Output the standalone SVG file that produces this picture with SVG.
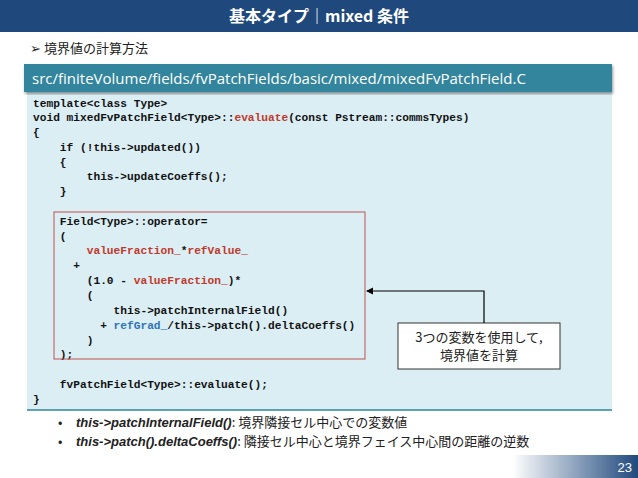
<svg xmlns="http://www.w3.org/2000/svg" width="638" height="478" viewBox="0 0 638 478">
<defs>
<linearGradient id="pg" x1="0" x2="1"><stop offset="0" stop-color="#ffffff"/><stop offset="1" stop-color="#1f497d"/></linearGradient>
<marker id="ah" markerWidth="6" markerHeight="6" refX="5" refY="3" orient="auto"><path d="M0,0 L6,3 L0,6 z" fill="#000"/></marker>
<filter id="sh"><feDropShadow dx="1" dy="2" stdDeviation="1.5" flood-opacity="0.4"/></filter>
</defs>
<style>
.c{font-family:"Liberation Mono","DejaVu Sans Mono",monospace;font-weight:bold;font-size:11.2px;fill:#111}
.r{fill:#c0392b}.b{fill:#2e74b5}
.j{font-family:"Noto Sans CJK JP","Noto Sans",sans-serif;fill:#222}
</style>
<rect width="638" height="478" fill="#fff"/>
<g id="title"><rect width="638" height="32" fill="#1f497d"/>
<text x="319" y="22" text-anchor="middle" class="j" style="fill:#fff;font-size:16px;font-weight:bold">基本タイプ｜mixed 条件</text></g>
<g id="heading"><text x="30" y="53" class="j" style="font-size:13px">➢ 境界値の計算方法</text></g>
<g id="code">
<rect x="27" y="92" width="585" height="318" fill="#dbeef4"/>
<line x1="27" y1="410" x2="612" y2="410" stroke="#31859c" stroke-width="1.5"/>
<rect x="24" y="64" width="588" height="28" fill="#31859c" filter="url(#sh)"/>
<text x="32" y="84" style="font-family:'Open Sans','Noto Sans',sans-serif;font-size:15px;fill:#fff">src/finiteVolume/fields/fvPatchFields/basic/mixed/mixedFvPatchField.C</text>
<text class="c" xml:space="preserve">
<tspan x="33" y="107">template&lt;class Type&gt;</tspan>
<tspan x="33" y="121">void mixedFvPatchField&lt;Type&gt;::<tspan class="r">evaluate</tspan>(const Pstream::commsTypes)</tspan>
<tspan x="33" y="136">{</tspan>
<tspan x="33" y="151">    if (!this-&gt;updated())</tspan>
<tspan x="33" y="166">    {</tspan>
<tspan x="33" y="180">        this-&gt;updateCoeffs();</tspan>
<tspan x="33" y="195">    }</tspan>
<tspan x="33" y="225">    Field&lt;Type&gt;::operator=</tspan>
<tspan x="33" y="240">    (</tspan>
<tspan x="33" y="254">        <tspan class="r">valueFraction_</tspan>*<tspan class="r">refValue_</tspan></tspan>
<tspan x="33" y="269">      +</tspan>
<tspan x="33" y="284">        (1.0 - <tspan class="r">valueFraction_</tspan>)*</tspan>
<tspan x="33" y="299">        (</tspan>
<tspan x="33" y="314">            this-&gt;patchInternalField()</tspan>
<tspan x="33" y="329">          + <tspan class="b">refGrad_</tspan>/this-&gt;patch().deltaCoeffs()</tspan>
<tspan x="33" y="344">        )</tspan>
<tspan x="33" y="358">    );</tspan>
<tspan x="33" y="388">    fvPatchField&lt;Type&gt;::evaluate();</tspan>
<tspan x="33" y="403">}</tspan>
</text>
</g>
<g id="highlight"><rect x="54" y="212" width="311" height="147" fill="none" stroke="#c0504d" stroke-width="1"/></g>
<g id="callout"><rect x="398" y="323" width="162" height="46" fill="#fff" stroke="#333" stroke-width="1"/>
<text x="479" y="342" text-anchor="middle" class="j" style="font-size:13px">3つの変数を使用して,</text>
<text x="479" y="360" text-anchor="middle" class="j" style="font-size:13px">境界値を計算</text></g>
<g id="connectors"><path d="M484,323 V291 H367" fill="none" stroke="#000" stroke-width="1.2" marker-end="url(#ah)"/></g>
<g id="notes" class="j" style="font-size:13px">
<text x="58" y="427">•</text>
<text x="76" y="427"><tspan style="font-family:'Liberation Sans',sans-serif;font-weight:bold;font-style:italic">this-&gt;patchInternalField()</tspan>: 境界隣接セル中心での変数値</text>
<text x="58" y="446">•</text>
<text x="76" y="446"><tspan style="font-family:'Liberation Sans',sans-serif;font-weight:bold;font-style:italic">this-&gt;patch().deltaCoeffs()</tspan>: 隣接セル中心と境界フェイス中心間の距離の逆数</text>
</g>
<g id="page"><rect x="512" y="455" width="126" height="23" fill="url(#pg)"/>
<text x="632" y="472" text-anchor="end" style="font-family:'Liberation Sans',sans-serif;font-size:13px;fill:#fff">23</text></g>
</svg>
